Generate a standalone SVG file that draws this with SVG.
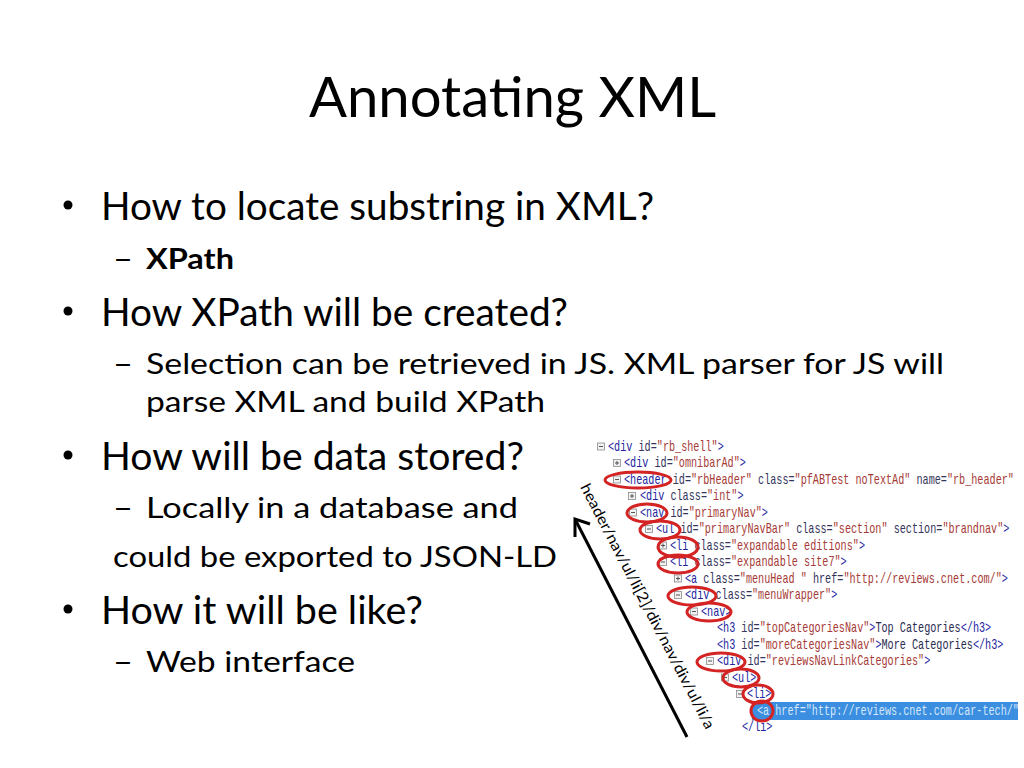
<svg xmlns="http://www.w3.org/2000/svg" xmlns:xlink="http://www.w3.org/1999/xlink" width="1024" height="768" viewBox="0 0 1024 768">
<defs>
<style>
.b{font-family:Lato,"Open Sans","Liberation Sans",sans-serif;fill:#000}
.c{font-family:"Liberation Mono","DejaVu Sans Mono",monospace;font-size:14px}
.tg{fill:#2424a0}.an{fill:#34345c}.av{fill:#a63a36}.tx{fill:#2a2a50}
.el{fill:none;stroke:#d42323;stroke-width:3}
.bx{fill:#f2f2f2;stroke:#8a8a8a;stroke-width:0.8}
.bl{stroke:#555;stroke-width:1}
</style>
<g id="bm"><rect class="bx" x="-3.5" y="-3.5" width="7" height="7"/><line class="bl" x1="-2" y1="0" x2="2" y2="0"/></g>
<g id="bp"><rect class="bx" x="-3.5" y="-3.5" width="7" height="7"/><line class="bl" x1="-2" y1="0" x2="2" y2="0"/><line class="bl" x1="0" y1="-2" x2="0" y2="2"/></g>
</defs>
<rect width="1024" height="768" fill="#fff"/>

<g id="title">
<text class="b" x="309" y="117" font-size="57" textLength="407" lengthAdjust="spacingAndGlyphs">Annotating XML</text>
</g>

<g id="bullets">
<circle cx="68" cy="205" r="4.5"/>
<text class="b" x="101" y="220" font-size="38" textLength="553" lengthAdjust="spacingAndGlyphs">How to locate substring in XML?</text>
<text class="b" x="113" y="269" font-size="28" textLength="20" lengthAdjust="spacingAndGlyphs">–</text>
<text class="b" x="146" y="269" font-size="28" font-weight="bold" textLength="88" lengthAdjust="spacingAndGlyphs">XPath</text>

<circle cx="68" cy="311" r="4.5"/>
<text class="b" x="101" y="326" font-size="38" textLength="467" lengthAdjust="spacingAndGlyphs">How XPath will be created?</text>
<text class="b" x="113" y="374" font-size="28" textLength="20" lengthAdjust="spacingAndGlyphs">–</text>
<text class="b" x="146" y="374" font-size="28" textLength="798" lengthAdjust="spacingAndGlyphs">Selection can be retrieved in JS. XML parser for JS will</text>
<text class="b" x="146" y="412" font-size="28" textLength="399" lengthAdjust="spacingAndGlyphs">parse XML and build XPath</text>

<circle cx="68" cy="455" r="4.5"/>
<text class="b" x="101" y="470" font-size="38" textLength="423" lengthAdjust="spacingAndGlyphs">How will be data stored?</text>
<text class="b" x="113" y="518" font-size="28" textLength="20" lengthAdjust="spacingAndGlyphs">–</text>
<text class="b" x="146" y="518" font-size="28" textLength="372" lengthAdjust="spacingAndGlyphs">Locally in a database and</text>
<text class="b" x="113" y="567" font-size="28" textLength="444" lengthAdjust="spacingAndGlyphs">could be exported to JSON-LD</text>

<circle cx="68" cy="609" r="4.5"/>
<text class="b" x="101" y="624" font-size="38" textLength="322" lengthAdjust="spacingAndGlyphs">How it will be like?</text>
<text class="b" x="113" y="672" font-size="28" textLength="20" lengthAdjust="spacingAndGlyphs">–</text>
<text class="b" x="146" y="672" font-size="28" textLength="209" lengthAdjust="spacingAndGlyphs">Web interface</text>
</g>

<g id="code">
<rect x="752" y="702" width="266" height="18" fill="#3b8ee0"/>
<use xlink:href="#bm" x="601" y="446.5"/>
<use xlink:href="#bp" x="617" y="463"/>
<use xlink:href="#bm" x="617" y="479.5"/>
<use xlink:href="#bp" x="632" y="496"/>
<use xlink:href="#bm" x="633" y="512.5"/>
<use xlink:href="#bm" x="649" y="529"/>
<use xlink:href="#bp" x="663" y="545.5"/>
<use xlink:href="#bm" x="663" y="562"/>
<use xlink:href="#bp" x="678" y="578.5"/>
<use xlink:href="#bm" x="678" y="595"/>
<use xlink:href="#bm" x="694" y="611.5"/>
<use xlink:href="#bm" x="710" y="661"/>
<use xlink:href="#bm" x="725" y="677.5"/>
<use xlink:href="#bm" x="740" y="694"/>
<g transform="scale(0.726,1)" class="c">
<text x="837.5" y="451"><tspan class="tg">&lt;div</tspan><tspan class="an"> id=</tspan><tspan class="av">"rb_shell"</tspan><tspan class="tg">&gt;</tspan></text>
<text x="859.5" y="467.5"><tspan class="tg">&lt;div</tspan><tspan class="an"> id=</tspan><tspan class="av">"omnibarAd"</tspan><tspan class="tg">&gt;</tspan></text>
<text x="859.5" y="484"><tspan class="tg">&lt;header</tspan><tspan class="an"> id=</tspan><tspan class="av">"rbHeader"</tspan><tspan class="an"> class=</tspan><tspan class="av">"pfABTest noTextAd"</tspan><tspan class="an"> name=</tspan><tspan class="av">"rb_header"</tspan></text>
<text x="881.5" y="500.5"><tspan class="tg">&lt;div</tspan><tspan class="an"> class=</tspan><tspan class="av">"int"</tspan><tspan class="tg">&gt;</tspan></text>
<text x="881.5" y="517"><tspan class="tg">&lt;nav</tspan><tspan class="an"> id=</tspan><tspan class="av">"primaryNav"</tspan><tspan class="tg">&gt;</tspan></text>
<text x="903.6" y="533.5"><tspan class="tg">&lt;ul</tspan><tspan class="an"> id=</tspan><tspan class="av">"primaryNavBar"</tspan><tspan class="an"> class=</tspan><tspan class="av">"section"</tspan><tspan class="an"> section=</tspan><tspan class="av">"brandnav"</tspan><tspan class="tg">&gt;</tspan></text>
<text x="922.9" y="550"><tspan class="tg">&lt;li</tspan><tspan class="an"> class=</tspan><tspan class="av">"expandable editions"</tspan><tspan class="tg">&gt;</tspan></text>
<text x="922.9" y="566.5"><tspan class="tg">&lt;li</tspan><tspan class="an"> class=</tspan><tspan class="av">"expandable site7"</tspan><tspan class="tg">&gt;</tspan></text>
<text x="943.5" y="583"><tspan class="tg">&lt;a</tspan><tspan class="an"> class=</tspan><tspan class="av">"menuHead "</tspan><tspan class="an"> href=</tspan><tspan class="av">"http://reviews.cnet.com/"</tspan><tspan class="tg">&gt;</tspan></text>
<text x="943.5" y="599.5"><tspan class="tg">&lt;div</tspan><tspan class="an"> class=</tspan><tspan class="av">"menuWrapper"</tspan><tspan class="tg">&gt;</tspan></text>
<text x="965.6" y="616"><tspan class="tg">&lt;nav&gt;</tspan></text>
<text x="987.6" y="632.5"><tspan class="tg">&lt;h3</tspan><tspan class="an"> id=</tspan><tspan class="av">"topCategoriesNav"</tspan><tspan class="tg">&gt;</tspan><tspan class="tx">Top Categories</tspan><tspan class="tg">&lt;/h3&gt;</tspan></text>
<text x="987.6" y="649"><tspan class="tg">&lt;h3</tspan><tspan class="an"> id=</tspan><tspan class="av">"moreCategoriesNav"</tspan><tspan class="tg">&gt;</tspan><tspan class="tx">More Categories</tspan><tspan class="tg">&lt;/h3&gt;</tspan></text>
<text x="987.6" y="665.5"><tspan class="tg">&lt;div</tspan><tspan class="an"> id=</tspan><tspan class="av">"reviewsNavLinkCategories"</tspan><tspan class="tg">&gt;</tspan></text>
<text x="1008.3" y="682"><tspan class="tg">&lt;ul&gt;</tspan></text>
<text x="1028.9" y="698.5"><tspan class="tg">&lt;li&gt;</tspan></text>
<text x="1042.7" y="715" fill="#d6e8fa">&lt;a href="http://reviews.cnet.com/car-tech/"</text>
<text x="1022" y="731.5"><tspan class="tg">&lt;/li&gt;</tspan></text>
</g>
<rect x="1018" y="700" width="6" height="22" fill="#fff"/>
</g>

<g id="marks">
<ellipse class="el" cx="638" cy="480" rx="33" ry="8"/>
<ellipse class="el" cx="647" cy="513" rx="20" ry="9"/>
<ellipse class="el" cx="660" cy="530" rx="20" ry="9"/>
<ellipse class="el" cx="678" cy="547" rx="20" ry="10"/>
<ellipse class="el" cx="678" cy="564" rx="20" ry="9"/>
<ellipse class="el" cx="692" cy="596" rx="24" ry="9"/>
<ellipse class="el" cx="709" cy="612" rx="22" ry="9"/>
<ellipse class="el" cx="721" cy="662" rx="24" ry="9"/>
<ellipse class="el" cx="741" cy="678" rx="18" ry="9"/>
<ellipse class="el" cx="758" cy="694" rx="15" ry="9"/>
<ellipse class="el" cx="762" cy="711" rx="11" ry="10"/>
</g>

<g id="connectors">
<line x1="687" y1="737" x2="576" y2="521" stroke="#000" stroke-width="3"/>
<polyline points="590,524 575,519 575,537" fill="none" stroke="#000" stroke-width="3" stroke-linejoin="miter"/>
</g>

<g id="path-label">
<text class="b" x="580" y="487" font-size="15" transform="rotate(62.6 580 487)" textLength="274" lengthAdjust="spacingAndGlyphs">header/nav/ul/li[2]/div/nav/div/ul/li/a</text>
</g>
</svg>
